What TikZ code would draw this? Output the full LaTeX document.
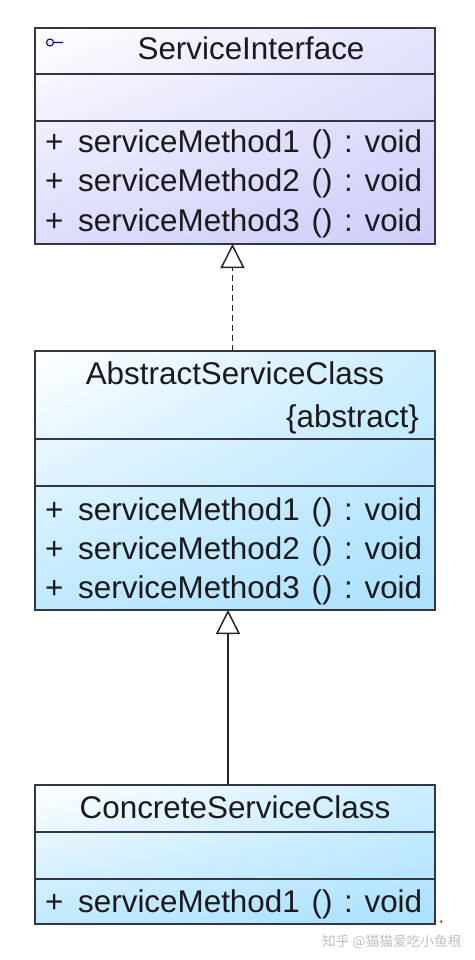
\documentclass[tikz,border=0pt]{standalone}
\usepackage{fontspec}
\setmainfont{Liberation Sans}
\newfontfamily\cjkfont{Noto Sans CJK SC}
\usetikzlibrary{arrows.meta,shadings}
\definecolor{lav}{RGB}{205,205,250}
\definecolor{sky}{RGB}{170,225,255}
\definecolor{edge}{RGB}{50,55,65}
\definecolor{ink}{RGB}{25,25,30}
\tikzset{
  x=1pt,y=-1pt,
  umlbase/.style={draw=edge,line width=1.6pt,minimum width=400pt,inner sep=0pt,outer sep=0pt,anchor=north west},
  ifacebox/.style={umlbase,upper left=white,upper right=lav!55,lower left=lav!70,lower right=lav},
  classbox/.style={umlbase,upper left=white,upper right=sky!60,lower left=sky!75,lower right=sky},
  divider/.style={draw=edge,line width=1.4pt},
  txt/.style={font=\fontsize{31.4pt}{32pt}\selectfont,text=ink,inner sep=0pt,anchor=base west},
  ttl/.style={font=\fontsize{31.4pt}{32pt}\selectfont,text=ink,inner sep=0pt,anchor=base},
  link/.style={draw=black!85,line width=1.5pt},
  hollow/.style={-{Triangle[open,fill=white,length=24pt,width=24pt,line width=1.5pt]}},
}
\newcommand{\methodrow}[2]{%
  \node[txt] at (45,#1) {+};
  \node[txt] at (78,#1) {serviceMethod#2};
  \node[txt] at (311.5,#1) {()};
  \node[txt] at (344,#1) {: void};
}
\begin{document}
\begin{tikzpicture}
\useasboundingbox (0,0) rectangle (474,960);
% boxes
\node[ifacebox,minimum height=216pt] (iface) at (35,28) {};
\node[classbox,minimum height=259pt] (abs) at (35,351) {};
\node[classbox,minimum height=139pt] (conc) at (35,785) {};
% dividers
\draw[divider] (35,74) -- (435,74);
\draw[divider] (35,121) -- (435,121);
\draw[divider] (35,439) -- (435,439);
\draw[divider] (35,486) -- (435,486);
\draw[divider] (35,832) -- (435,832);
\draw[divider] (35,879) -- (435,879);
% interface icon
\draw[draw=blue!55!black,line width=1.1pt] (50,42.5) circle (3.5) (53.5,42.5) -- (63,42.5);
% titles
\node[ttl] (t1) at (251,60) {ServiceInterface};
\node[ttl] (t2) at (235,384) {AbstractServiceClass};
\node[txt,anchor=base east] (t2b) at (419,427) {\{abstract\}};
\node[ttl] (t3) at (235,818) {ConcreteServiceClass};
% methods
\methodrow{153}{1}
\methodrow{192}{2}
\methodrow{231}{3}
\methodrow{520}{1}
\methodrow{559}{2}
\methodrow{598}{3}
\methodrow{912}{1}
% connectors
\draw[link,dash pattern=on 6pt off 4pt,hollow] ([xshift=-2.5pt]abs.north) -- ([xshift=-2.5pt]iface.south);
\draw[link,hollow] ([xshift=-7pt]conc.north) -- ([xshift=-7pt]abs.south);
% small mark by the corner
\fill[black!55] (439.5,921.5) -- (442,919.5) -- (442,923.5) -- cycle;
% watermark
\node[inner sep=0pt,anchor=base west,text=black!25,font=\cjkfont\fontsize{13.7pt}{14pt}\selectfont] (wm) at (322,946) {知乎 @猫猫爱吃小鱼根};
\end{tikzpicture}
\end{document}
